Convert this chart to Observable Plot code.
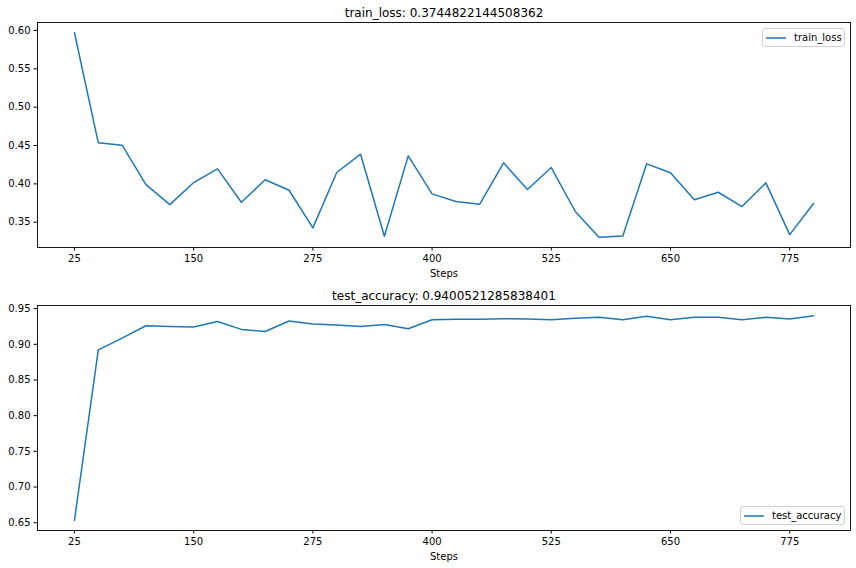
<!DOCTYPE html>
<html>
<head>
<meta charset="utf-8">
<script src="https://cdn.jsdelivr.net/npm/d3@7"></script>
<script src="https://cdn.jsdelivr.net/npm/@observablehq/plot@0.6"></script>
<style>
  html, body { margin: 0; padding: 0; background: #fff; }
  #wrap { position: relative; width: 856px; height: 568px; font-family: "DejaVu Sans", sans-serif; }
  .panel { position: absolute; left: 0; }
  .legend { position: absolute; border: 1px solid #d0d0d0; border-radius: 3px; background: rgba(255,255,255,0.8);
            font-size: 10px; color: #000; display: flex; align-items: center; box-sizing: border-box; }
  .legend svg { margin-left: 2px; margin-right: 7px; }
</style>
</head>
<body>
<div id="wrap"></div>
<script>
const steps = [25,50,75,100,125,150,175,200,225,250,275,300,325,350,375,400,425,450,475,500,525,550,575,600,625,650,675,700,725,750,775,800];
const trainLoss = [0.597,0.4535,0.4504,0.399,0.373,0.4017,0.4196,0.376,0.4053,0.3917,0.3427,0.4148,0.4387,0.3317,0.4365,0.387,0.377,0.3735,0.4274,0.3926,0.4213,0.3643,0.3304,0.3322,0.4261,0.4144,0.3792,0.3891,0.3704,0.4013,0.3339,0.3745];
const testAccuracy = [0.6534,0.8922,0.9087,0.926,0.925,0.9242,0.932,0.9209,0.918,0.9326,0.9283,0.927,0.925,0.9279,0.9218,0.9345,0.935,0.935,0.9359,0.9354,0.9345,0.9364,0.9378,0.9345,0.9392,0.9345,0.9378,0.9378,0.9345,0.9378,0.9354,0.9400521285838401];
const xTicks = [25,150,275,400,525,650,775];
const lossTicks = [0.35,0.40,0.45,0.50,0.55,0.60];
const accTicks = [0.65,0.70,0.75,0.80,0.85,0.90,0.95];
const lossTitle = "train_loss: 0.3744822144508362";
const accTitle = "test_accuracy: 0.9400521285838401";

const blue = "#1f77b4";
const wrap = document.getElementById("wrap");

function pad(ext) { const r = ext[1] - ext[0]; return [ext[0] - 0.05 * r, ext[1] + 0.05 * r]; }

function panel(values, yTicks, title, top, height) {
  const data = steps.map((s, i) => ({step: s, value: values[i]}));
  const chart = Plot.plot({
    width: 856, height: height,
    marginLeft: 37, marginRight: 6, marginTop: 22, marginBottom: height - 247,
    style: {fontFamily: "DejaVu Sans, sans-serif", fontSize: "10px", color: "#000", background: "transparent", overflow: "visible"},
    x: {domain: pad(d3.extent(steps))},
    y: {domain: pad(d3.extent(values))},
    marks: [
      Plot.lineY(data, {x: "step", y: "value", stroke: blue, strokeWidth: 1.5}),
      Plot.frame({stroke: "#000", strokeWidth: 0.9}),
      Plot.axisX({ticks: xTicks, tickSize: 3.5, tickPadding: 3.5, label: null, tickFormat: d => String(d), stroke: "#000", fill: "#000"}),
      Plot.axisY({ticks: yTicks, tickSize: 3.5, tickPadding: 3.5, label: null, tickFormat: d => d.toFixed(2), stroke: "#000", fill: "#000"}),
      Plot.text(["Steps"], {text: d => d, frameAnchor: "bottom", lineAnchor: "middle", dy: 26, fontSize: 10, fill: "#000"}),
      Plot.text([title], {text: d => d, frameAnchor: "top", lineAnchor: "middle", dy: -9, fontSize: 12, fill: "#000"})
    ]
  });
  chart.classList.add("panel");
  chart.style.top = top + "px";
  wrap.appendChild(chart);
}

function legend(label, left, top, width, height) {
  const div = document.createElement("div");
  div.className = "legend";
  Object.assign(div.style, {left: left + "px", top: top + "px", width: width + "px", height: height + "px"});
  div.innerHTML = `<svg width="22" height="4"><line x1="1" x2="21" y1="2" y2="2" stroke="${blue}" stroke-width="1.5"/></svg><span>${label}</span>`;
  wrap.appendChild(div);
}

panel(trainLoss, lossTicks, lossTitle, 0, 283);
panel(testAccuracy, accTicks, accTitle, 283, 285);
legend("train_loss", 762, 28, 83, 19);
legend("test_accuracy", 740, 506, 105, 19);
</script>
</body>
</html>
